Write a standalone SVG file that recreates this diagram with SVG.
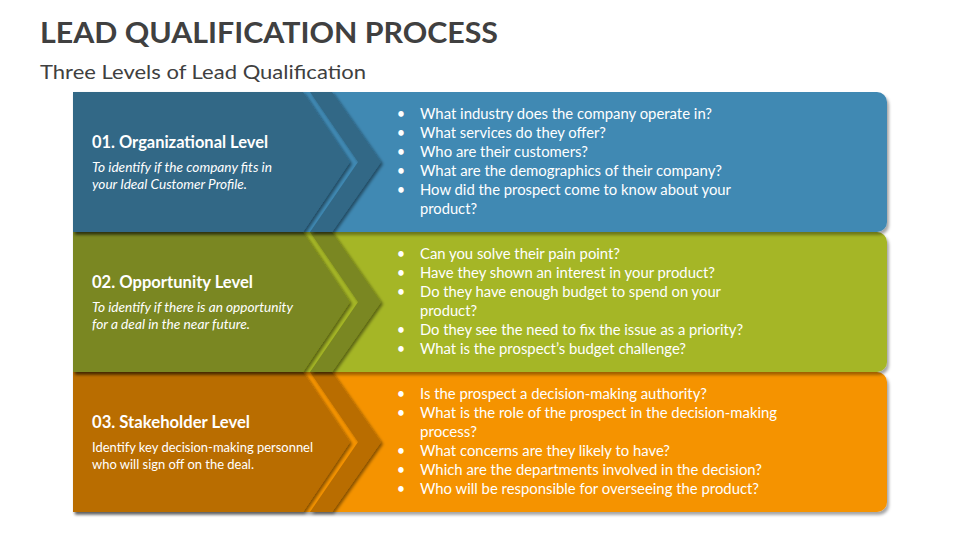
<svg xmlns="http://www.w3.org/2000/svg" width="960" height="540" viewBox="0 0 960 540">
<defs>
<filter id="shBox" x="-5%" y="-10%" width="115%" height="125%">
<feDropShadow dx="2" dy="3" stdDeviation="1.5" flood-color="#000" flood-opacity="0.35"/>
</filter>
<filter id="shChev" x="-10%" y="-10%" width="125%" height="125%">
<feDropShadow dx="2" dy="2" stdDeviation="1.8" flood-color="#000" flood-opacity="0.45"/>
</filter>
<style>
.title{font-family:Lato,"Liberation Sans",sans-serif;font-weight:700;font-size:28px;fill:#404040}
.sub{font-family:Lato,"Liberation Sans",sans-serif;font-size:19.5px;fill:#404040}
.lt{font-family:Lato,"Liberation Sans",sans-serif;font-weight:700;font-size:16.5px;fill:#fff}
.ld{font-family:Lato,"Liberation Sans",sans-serif;font-style:italic;font-size:12.5px;fill:#fff}
.ldn{font-family:Lato,"Liberation Sans",sans-serif;font-size:12.5px;fill:#fff}
.b{font-family:Lato,"Liberation Sans",sans-serif;font-size:14.5px;fill:#fff}
.dot{font-family:Lato,"Liberation Sans",sans-serif;font-size:14.5px;fill:#fff;text-anchor:middle}
</style>
<path id="box" d="M73,0 H877 A10,10 0 0 1 887,10 V130 A10,10 0 0 1 877,140 H73 Z"/>
<path id="chev1" d="M73,0 H303 L350,70 L303,140 H73 Z"/>
<path id="chev2" d="M310,0 H332 L381,70 L332,140 H310 L358,70 Z"/>
</defs>
<rect width="960" height="540" fill="#fff"/>
<text class="title" x="40" y="43" textLength="458" lengthAdjust="spacingAndGlyphs">LEAD QUALIFICATION PROCESS</text>
<text class="sub" x="40" y="79" textLength="326" lengthAdjust="spacingAndGlyphs">Three Levels of Lead Qualification</text>

<g id="level3" transform="translate(0,372)">
<use href="#box" fill="#F59300" filter="url(#shBox)"/>
<use href="#chev2" fill="#B96D00" filter="url(#shChev)"/>
<use href="#chev1" fill="#B96D00" filter="url(#shChev)"/>
<text class="lt" x="92" y="56" textLength="158" lengthAdjust="spacingAndGlyphs">03. Stakeholder Level</text>
<text class="ldn" x="92" y="80" textLength="221" lengthAdjust="spacingAndGlyphs">Identify key decision-making personnel</text>
<text class="ldn" x="92" y="97" textLength="162" lengthAdjust="spacingAndGlyphs">who will sign off on the deal.</text>
<text class="dot" x="401" y="26.5">•</text>
<text class="b" x="420" y="26.5" textLength="287" lengthAdjust="spacingAndGlyphs">Is the prospect a decision-making authority?</text>
<text class="dot" x="401" y="45.6">•</text>
<text class="b" x="420" y="45.6" textLength="357" lengthAdjust="spacingAndGlyphs">What is the role of the prospect in the decision-making</text>
<text class="b" x="420" y="64.7" textLength="57" lengthAdjust="spacingAndGlyphs">process?</text>
<text class="dot" x="401" y="83.8">•</text>
<text class="b" x="420" y="83.8" textLength="250" lengthAdjust="spacingAndGlyphs">What concerns are they likely to have?</text>
<text class="dot" x="401" y="102.9">•</text>
<text class="b" x="420" y="102.9" textLength="342" lengthAdjust="spacingAndGlyphs">Which are the departments involved in the decision?</text>
<text class="dot" x="401" y="122">•</text>
<text class="b" x="420" y="122" textLength="339" lengthAdjust="spacingAndGlyphs">Who will be responsible for overseeing the product?</text>
</g>

<g id="level2" transform="translate(0,232)">
<use href="#box" fill="#A5B625" filter="url(#shBox)"/>
<use href="#chev2" fill="#7A8720" filter="url(#shChev)"/>
<use href="#chev1" fill="#7A8720" filter="url(#shChev)"/>
<text class="lt" x="92" y="56" textLength="161" lengthAdjust="spacingAndGlyphs">02. Opportunity Level</text>
<text class="ld" x="92" y="80" textLength="201" lengthAdjust="spacingAndGlyphs">To identify if there is an opportunity</text>
<text class="ld" x="92" y="97" textLength="158" lengthAdjust="spacingAndGlyphs">for a deal in the near future.</text>
<text class="dot" x="401" y="26.5">•</text>
<text class="b" x="420" y="26.5" textLength="200" lengthAdjust="spacingAndGlyphs">Can you solve their pain point?</text>
<text class="dot" x="401" y="45.6">•</text>
<text class="b" x="420" y="45.6" textLength="295" lengthAdjust="spacingAndGlyphs">Have they shown an interest in your product?</text>
<text class="dot" x="401" y="64.7">•</text>
<text class="b" x="420" y="64.7" textLength="301" lengthAdjust="spacingAndGlyphs">Do they have enough budget to spend on your</text>
<text class="b" x="420" y="83.8" textLength="57" lengthAdjust="spacingAndGlyphs">product?</text>
<text class="dot" x="401" y="102.9">•</text>
<text class="b" x="420" y="102.9" textLength="323" lengthAdjust="spacingAndGlyphs">Do they see the need to fix the issue as a priority?</text>
<text class="dot" x="401" y="122">•</text>
<text class="b" x="420" y="122" textLength="266" lengthAdjust="spacingAndGlyphs">What is the prospect’s budget challenge?</text>
</g>

<g id="level1" transform="translate(0,92)">
<use href="#box" fill="#4189B3" filter="url(#shBox)"/>
<use href="#chev2" fill="#326886" filter="url(#shChev)"/>
<use href="#chev1" fill="#326886" filter="url(#shChev)"/>
<text class="lt" x="92" y="56" textLength="176" lengthAdjust="spacingAndGlyphs">01. Organizational Level</text>
<text class="ld" x="92" y="80" textLength="180" lengthAdjust="spacingAndGlyphs">To identify if the company fits in</text>
<text class="ld" x="92" y="97" textLength="155" lengthAdjust="spacingAndGlyphs">your Ideal Customer Profile.</text>
<text class="dot" x="401" y="26.5">•</text>
<text class="b" x="420" y="26.5" textLength="292" lengthAdjust="spacingAndGlyphs">What industry does the company operate in?</text>
<text class="dot" x="401" y="45.6">•</text>
<text class="b" x="420" y="45.6" textLength="186" lengthAdjust="spacingAndGlyphs">What services do they offer?</text>
<text class="dot" x="401" y="64.7">•</text>
<text class="b" x="420" y="64.7" textLength="168" lengthAdjust="spacingAndGlyphs">Who are their customers?</text>
<text class="dot" x="401" y="83.8">•</text>
<text class="b" x="420" y="83.8" textLength="302" lengthAdjust="spacingAndGlyphs">What are the demographics of their company?</text>
<text class="dot" x="401" y="102.9">•</text>
<text class="b" x="420" y="102.9" textLength="311" lengthAdjust="spacingAndGlyphs">How did the prospect come to know about your</text>
<text class="b" x="420" y="122" textLength="57" lengthAdjust="spacingAndGlyphs">product?</text>
</g>
</svg>
